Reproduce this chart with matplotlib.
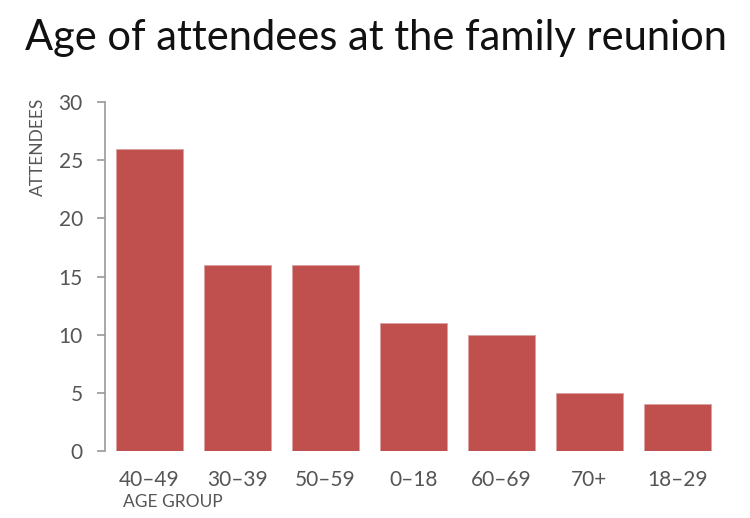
import matplotlib
matplotlib.use("Agg")
import matplotlib.pyplot as plt

categories = ["40–49", "30–39", "50–59", "0–18", "60–69", "70+", "18–29"]
attendees = [26, 16, 16, 11, 10, 5, 4]
yticks = [0, 5, 10, 15, 20, 25, 30]

plt.rcParams['font.family'] = ['Lato', 'DejaVu Sans']
fig = plt.figure(figsize=(7.5, 5.18), dpi=100)
ax = fig.add_axes([0.14, 0.1293, 0.822, 0.6737])

x = range(len(categories))
ax.bar(x, attendees, width=0.76, color="#c0504d", edgecolor="#d8a0a0", linewidth=0.6)
ax.set_xlim(-0.5, len(categories) - 0.5)
ax.set_ylim(0, 30)
ax.set_yticks(yticks)
ax.set_xticks(list(x))
ax.set_xticklabels(categories)
for s in ["top", "right", "bottom"]:
    ax.spines[s].set_visible(False)
ax.spines["left"].set_color("#999999")
ax.spines["left"].set_linewidth(1.2)
ax.tick_params(axis="y", colors="#999999", labelcolor="#555555", labelsize=15, length=6, width=1.2, pad=10)
ax.tick_params(axis="x", length=0, labelcolor="#555555", labelsize=15, pad=14)

fig.text(0.033, 0.927, "Age of attendees at the family reunion", fontsize=30, color="#111111",
         ha="left", va="center")
fig.text(0.051, 0.812, "ATTENDEES", rotation=90, fontsize=12.5, color="#555555", ha="center", va="top")
fig.text(0.164, 0.031, "AGE GROUP", fontsize=12.5, color="#555555", ha="left", va="center")

fig.savefig("out.png", dpi=100)
